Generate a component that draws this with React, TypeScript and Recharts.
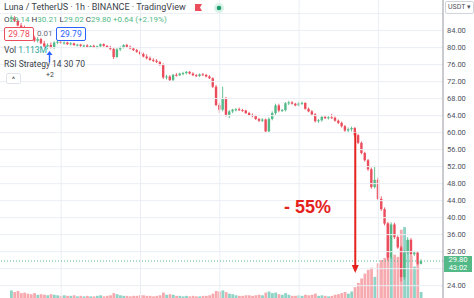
import React from "react";
import { Bar, CartesianGrid, Cell, ComposedChart, ReferenceDot, ReferenceLine, XAxis, YAxis } from "recharts";

const W = 474;
const H = 298;
const AXIS_W = 31;
const RED = "#eb4d5c";
const GREEN = "#53b987";
const VOL_RED = "#f6a9ae";
const VOL_GREEN = "#8fd3c6";
const GRID = "#eaeef4";

// 1h candles, [open, high, low, close]
const ohlc: [number, number, number, number][] = [
  [86.8, 87.6, 86.2, 87.0], [87.0, 87.4, 86.0, 86.3], [86.3, 86.6, 85.0, 85.2], [85.2, 85.8, 84.3, 84.6], [84.6, 85.2, 83.5, 83.8],
  [83.8, 84.2, 82.6, 82.9], [82.9, 83.5, 82.0, 82.4], [82.4, 82.8, 81.3, 81.6], [81.6, 82.5, 81.2, 82.0], [82.0, 82.3, 80.8, 81.0],
  [81.0, 81.6, 79.9, 80.3], [80.3, 81.0, 79.6, 80.6], [80.6, 81.2, 79.8, 80.0], [80.0, 81.5, 79.7, 81.2], [81.2, 81.8, 80.8, 81.4],
  [81.4, 81.7, 80.9, 81.1], [81.1, 81.5, 80.7, 81.2], [81.2, 81.4, 80.6, 80.8], [80.8, 81.3, 80.5, 81.0], [81.0, 81.2, 80.4, 80.6],
  [80.6, 80.9, 80.3, 80.7], [80.7, 80.9, 80.2, 80.4], [80.4, 80.7, 80.1, 80.5], [80.5, 80.8, 80.0, 80.2], [80.2, 80.6, 79.9, 80.4],
  [80.4, 80.7, 80.0, 80.1], [80.1, 80.5, 79.8, 80.3], [80.3, 81.0, 80.1, 80.8], [80.8, 81.0, 80.2, 80.4], [80.4, 80.6, 79.9, 80.1],
  [80.1, 80.4, 79.4, 79.7], [79.7, 80.0, 77.3, 77.8], [77.8, 80.0, 77.6, 79.6], [79.6, 80.3, 79.2, 80.0], [80.0, 80.8, 79.8, 80.6],
  [80.6, 80.9, 80.0, 80.2], [80.2, 80.5, 79.6, 79.8], [79.8, 80.1, 79.2, 79.4], [79.4, 79.7, 78.8, 79.0], [79.0, 79.3, 78.2, 78.5],
  [78.5, 78.8, 77.7, 77.9], [77.9, 78.4, 77.2, 77.5], [77.5, 77.9, 76.9, 77.1], [77.1, 77.5, 76.6, 76.9], [76.9, 77.3, 76.4, 76.6],
  [76.6, 76.9, 75.7, 76.0], [76.0, 76.3, 72.6, 73.0], [73.0, 73.6, 72.5, 73.2], [73.2, 73.5, 72.1, 72.4], [72.4, 73.8, 72.1, 73.6],
  [73.6, 74.0, 73.2, 73.5], [73.5, 74.1, 73.3, 73.9], [73.9, 74.3, 73.5, 74.0], [74.0, 74.5, 73.7, 74.3], [74.3, 74.5, 73.7, 73.9],
  [73.9, 74.2, 73.3, 73.5], [73.5, 73.8, 73.1, 73.3], [73.3, 73.9, 73.1, 73.7], [73.7, 74.0, 73.4, 73.6], [73.6, 73.8, 73.0, 73.2],
  [73.2, 73.5, 72.6, 72.8], [72.8, 73.0, 70.5, 70.8], [70.8, 71.2, 66.2, 66.5], [66.5, 67.0, 64.6, 65.4], [65.4, 70.8, 65.0, 68.0],
  [68.0, 68.4, 63.8, 64.2], [64.2, 65.3, 63.4, 65.0], [65.0, 65.6, 64.6, 65.4], [65.4, 65.8, 65.0, 65.5], [65.5, 65.9, 65.1, 65.3],
  [65.3, 65.6, 64.9, 65.2], [65.2, 65.4, 64.4, 64.6], [64.6, 64.9, 63.9, 64.1], [64.1, 64.5, 63.6, 63.9], [63.9, 64.2, 63.0, 63.2],
  [63.2, 63.5, 62.5, 62.8], [62.8, 63.4, 62.5, 63.1], [63.1, 63.3, 60.0, 60.3], [60.3, 63.6, 60.0, 63.2], [63.2, 65.0, 62.9, 64.6],
  [64.6, 66.8, 64.2, 66.4], [66.4, 66.8, 64.8, 65.2], [65.2, 65.6, 64.9, 65.3], [65.3, 67.2, 65.0, 66.9], [66.9, 67.5, 66.5, 67.1],
  [67.1, 67.4, 66.6, 66.8], [66.8, 67.0, 66.2, 66.4], [66.4, 67.2, 66.2, 66.9], [66.9, 67.3, 66.5, 67.0], [67.0, 67.1, 65.4, 65.6],
  [65.6, 65.9, 64.8, 65.0], [65.0, 65.3, 64.0, 64.3], [64.3, 64.6, 62.4, 62.7], [62.7, 63.2, 62.3, 62.9], [62.9, 64.0, 62.6, 63.7],
  [63.7, 64.1, 63.2, 63.4], [63.4, 63.9, 63.1, 63.6], [63.6, 64.4, 63.3, 63.5], [63.5, 63.8, 62.6, 62.8], [62.8, 63.1, 62.0, 62.3],
  [62.3, 62.6, 61.2, 61.5], [61.5, 61.8, 60.2, 60.5], [60.5, 61.2, 60.1, 60.8], [60.8, 61.4, 60.3, 61.1], [61.1, 61.3, 59.0, 59.4],
  [59.4, 59.7, 57.3, 57.6], [57.6, 57.9, 54.9, 55.2], [55.2, 55.5, 53.2, 53.5], [53.5, 53.8, 51.0, 51.4], [51.4, 51.8, 46.8, 47.2],
  [47.2, 52.2, 46.9, 48.9], [48.9, 49.4, 44.0, 44.4], [44.4, 45.0, 41.6, 42.0], [42.0, 42.4, 38.2, 38.6], [38.6, 39.0, 29.9, 30.6],
  [30.6, 38.9, 30.2, 38.4], [38.4, 38.8, 35.0, 35.4], [35.4, 35.8, 32.7, 33.0], [33.0, 33.4, 25.0, 26.0], [26.0, 32.4, 25.4, 31.8],
  [31.8, 35.4, 31.4, 34.8], [34.8, 35.2, 31.0, 31.4], [31.4, 32.2, 31.0, 31.8], [31.8, 32.0, 28.9, 29.16], [29.14, 30.21, 29.02, 29.8],
];

// volume, millions
const volumes = [
  1.4, 1.1, 1.3, 0.9, 1.0, 0.8, 0.7, 0.9, 0.6, 0.7,
  0.6, 0.5, 0.7, 0.6, 0.5, 0.4, 0.5, 0.4, 0.4, 0.5,
  0.3, 0.4, 0.3, 0.4, 0.3, 0.3, 0.4, 0.5, 0.3, 0.4,
  0.5, 0.9, 0.7, 0.5, 0.4, 0.4, 0.3, 0.4, 0.4, 0.5,
  0.5, 0.4, 0.4, 0.3, 0.4, 0.5, 1.0, 0.6, 0.7, 0.6,
  0.4, 0.4, 0.3, 0.4, 0.3, 0.4, 0.3, 0.3, 0.4, 0.4,
  0.5, 0.8, 1.3, 1.2, 1.4, 1.1, 0.8, 0.7, 0.5, 0.4,
  0.4, 0.5, 0.5, 0.4, 0.5, 0.6, 0.5, 1.0, 1.2, 0.9,
  1.0, 0.7, 0.6, 0.9, 0.6, 0.4, 0.4, 0.5, 0.4, 0.6,
  0.5, 0.6, 0.8, 0.4, 0.5, 0.4, 0.3, 0.4, 0.6, 0.7,
  0.9, 1.1, 0.8, 1.2, 2.0, 2.8, 3.6, 4.5, 5.2, 5.6,
  3.9, 6.4, 7.0, 7.4, 13.8, 7.5, 8.0, 7.6, 12.6, 13.1,
  10.7, 7.8, 5.8, 6.4, 1.113,
];

// 28 and 88 sit under the price tag / currency box, so only their grid lines show
const gridTicks = [24, 28, 32, 36, 40, 44, 48, 52, 56, 60, 64, 68, 72, 76, 80, 84, 88];
const labelTicks = [24, 32, 36, 40, 44, 48, 52, 56, 60, 64, 68, 72, 76, 80, 84];
const dayStarts = [15, 39, 63, 87, 111];
const lastPrice = 29.8;
const dropCandle = 104;
const dropTop = 60.0;
const dropBottom = 27.0;

const data = ohlc.map(([o, h, l, c], i) => ({ i, o, h, l, c, range: [l, h], v: volumes[i] }));

function Candle(props: any) {
  const { x, y, width, height, payload } = props;
  if (!payload) return null;
  const { o, h, l, c } = payload;
  const top = Math.min(y, y + height);
  const full = Math.abs(height);
  const k = h > l ? full / (h - l) : 0;
  const bodyTop = top + (h - Math.max(o, c)) * k;
  const bodyH = Math.max(1, Math.abs(o - c) * k);
  const color = c >= o ? GREEN : RED;
  const cx = x + width / 2;
  return (
    <g>
      <line x1={cx} x2={cx} y1={top} y2={top + full} stroke={color} strokeWidth={0.9} />
      <rect x={x} y={bodyTop} width={width} height={bodyH} fill={color} />
    </g>
  );
}

function ArrowHead(props: any) {
  const { cx, cy } = props;
  return <path d={`M${cx - 3.5},${cy - 8}L${cx + 3.5},${cy - 8}L${cx},${cy}Z`} fill="#e5221d" />;
}

const txt: React.CSSProperties = { position: "absolute", whiteSpace: "nowrap", fontFamily: "Roboto, sans-serif" };

export default function App() {
  return (
    <div style={{ position: "absolute", left: 0, top: 0, width: W, height: H, background: "#fff", overflow: "hidden" }}>
      <ComposedChart width={W} height={H} data={data} margin={{ top: 0, right: 0, bottom: 0, left: 0 }}>
        <XAxis xAxisId="c" dataKey="i" type="category" hide padding={{ left: 10, right: 20 }} />
        <XAxis xAxisId="v" dataKey="i" type="category" hide padding={{ left: 10, right: 20 }} />
        <YAxis
          yAxisId="p"
          orientation="right"
          width={AXIS_W}
          domain={[21.1, 91.2]}
          allowDataOverflow
          ticks={labelTicks}
          interval={0}
          tickLine={false}
          tickSize={0}
          tickMargin={4}
          axisLine={{ stroke: "#9598a1" }}
          tick={{ fontSize: 7.5, fill: "#50535e", fontFamily: "Roboto, sans-serif", textAnchor: "start" }}
          tickFormatter={(v: number) => v.toFixed(2)}
        />
        <YAxis yAxisId="vol" hide domain={[0, 55]} />
        {gridTicks.map((t) => (
          <ReferenceLine key={`h${t}`} xAxisId="c" yAxisId="p" y={t} stroke={GRID} />
        ))}
        {dayStarts.map((d) => (
          <ReferenceLine key={`v${d}`} xAxisId="c" yAxisId="p" x={d} stroke={GRID} />
        ))}
        <Bar xAxisId="v" yAxisId="vol" dataKey="v" barSize={2.8} isAnimationActive={false}>
          {data.map((d) => (
            <Cell key={d.i} fill={d.c >= d.o ? VOL_GREEN : VOL_RED} />
          ))}
        </Bar>
        <ReferenceLine xAxisId="c" yAxisId="p" y={lastPrice} stroke={GREEN} strokeDasharray="1 2" />
        <Bar xAxisId="c" yAxisId="p" dataKey="range" barSize={2.4} isAnimationActive={false} shape={(p: any) => <Candle {...p} />} />
        <ReferenceLine
          xAxisId="c"
          yAxisId="p"
          segment={[{ x: dropCandle, y: dropTop }, { x: dropCandle, y: dropBottom + 1.2 }]}
          stroke="#e5221d"
          strokeWidth={2}
        />
        <ReferenceDot xAxisId="c" yAxisId="p" x={dropCandle} y={dropBottom} r={4} shape={(p: any) => <ArrowHead {...p} />} />
      </ComposedChart>

      {/* legend block */}
      <div style={{ ...txt, left: 4, top: 2, fontSize: 9, color: "#3b3f4a" }}>Luna / TetherUS · 1h · BINANCE · TradingView</div>
      <svg style={{ position: "absolute", left: 195, top: 4 }} width={8} height={8}>
        <path d="M0,0H7L5,3.5L7,7H0Z" fill={RED} />
      </svg>
      <svg style={{ position: "absolute", left: 213, top: 2 }} width={12} height={12}>
        <circle cx={6} cy={6} r={5} fill="#d9f2e8" />
        <circle cx={6} cy={6} r={2.3} fill="#1e9c6c" />
      </svg>
      <div style={{ ...txt, left: 4, top: 15, fontSize: 8, color: GREEN }}>
        <span style={{ color: "#3b3f4a" }}>O</span>29.14 <span style={{ color: "#3b3f4a" }}>H</span>30.21{" "}
        <span style={{ color: "#3b3f4a" }}>L</span>29.02 <span style={{ color: "#3b3f4a" }}>C</span>29.80 +0.64 (+2.19%)
      </div>
      <div style={{ ...txt, left: 4, top: 27, width: 28, height: 12, border: `1px solid ${RED}`, borderRadius: 2, background: "#fff", color: RED, fontSize: 8.5, lineHeight: "12px", textAlign: "center" }}>29.78</div>
      <div style={{ ...txt, left: 37, top: 28, fontSize: 8, color: "#6a6d78", lineHeight: "12px" }}>0.01</div>
      <div style={{ ...txt, left: 56, top: 27, width: 28, height: 12, border: "1px solid #2962ff", borderRadius: 2, background: "#fff", color: "#2962ff", fontSize: 8.5, lineHeight: "12px", textAlign: "center" }}>29.79</div>
      <div style={{ ...txt, left: 4, top: 45, fontSize: 8.5, color: "#3b3f4a" }}>
        Vol <span style={{ color: "#26a69a" }}>1.113M</span>
      </div>
      <svg style={{ position: "absolute", left: 46, top: 51 }} width={7} height={11}>
        <path d="M3.5,0L6.5,4H4.2V11H2.8V4H0.5Z" fill="#2962ff" />
      </svg>
      <div style={{ ...txt, left: 4, top: 59, fontSize: 8.5, color: "#3b3f4a" }}>RSI Strategy 14 30 70</div>
      <div style={{ ...txt, left: 46, top: 71, fontSize: 7, color: "#3b3f4a" }}>+2</div>
      <div style={{ ...txt, left: 6, top: 73, width: 13, height: 9, border: "1px solid #e0e3eb", borderRadius: 2, background: "#fff", fontSize: 8, lineHeight: "12px", textAlign: "center", color: "#3b3f4a" }}>^</div>

      {/* annotation */}
      <div style={{ ...txt, left: 284, top: 197, fontSize: 18, fontWeight: 700, color: "#e5221d", fontFamily: "'Liberation Sans', Arial, sans-serif" }}>- 55%</div>

      {/* price scale extras */}
      <div style={{ ...txt, left: 445, top: 1, width: 27, height: 11, border: "1px solid #d1d4dc", borderRadius: 2, background: "#fff", fontSize: 7, lineHeight: "11px", color: "#50535e", textAlign: "center" }}>USDT ▾</div>
      <div style={{ ...txt, left: 444, top: 256, width: 28, height: 16, background: GREEN, color: "#fff", fontSize: 7.5, lineHeight: "8px", textAlign: "center" }}>
        29.80
        <br />
        43:02
      </div>
    </div>
  );
}
